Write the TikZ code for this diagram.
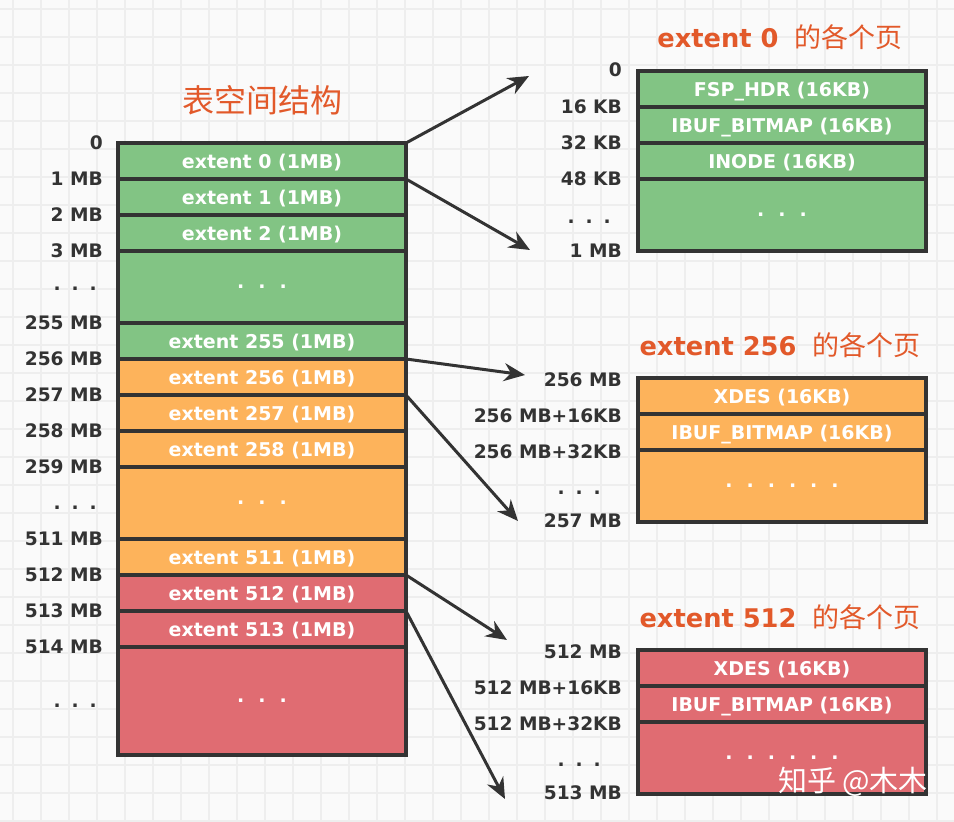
\documentclass[tikz,border=0pt]{standalone}
\usepackage{fontspec}
\usetikzlibrary{arrows.meta}
\setmainfont{DejaVu Sans}
\newfontfamily\cjkfont{Noto Sans CJK SC}
\definecolor{gridc}{HTML}{EEEEEE}
\definecolor{linec}{HTML}{333333}
\definecolor{greenc}{HTML}{82C484}
\definecolor{orangec}{HTML}{FDB35B}
\definecolor{redc}{HTML}{E06C72}
\definecolor{titlec}{HTML}{E2592A}
\newcommand*{\threedots}{\raisebox{6pt}{.\hspace{14pt}.\hspace{14pt}.}}
\newcommand*{\leftdots}{.\hspace{11pt}.\hspace{11pt}.}
\newcommand*{\sixdots}{\raisebox{6pt}{.\hspace{14pt}.\hspace{14pt}.\hspace{14pt}.\hspace{14pt}.\hspace{14pt}.}}
\newcommand*{\pagesof}{{\cjkfont\fontsize{27}{30}\selectfont\mdseries\hspace{16pt}的各个页}}
% one slab of a stack: name, left, top, bottom, colour, text
\newcommand*{\slab}[6]{%
\pgfmathsetmacro{\slabh}{#4-#3}
\node[slab, minimum height=\slabh pt, fill=#5] (#1) at (#2+144, {(#3+#4)/2}) {#6};}
\tikzset{
  slab/.style={draw=linec, line width=3.4pt, minimum width=288pt, inner sep=0pt, outer sep=0pt,
    text height=14pt, text depth=0pt, text=white, font=\fontsize{19}{21}\selectfont\bfseries},
  addr/.style={anchor=east, inner sep=0pt, text=linec, font=\fontsize{18.6}{21}\selectfont\bfseries},
  ttl/.style={text=titlec, inner sep=0pt, font=\fontsize{25.7}{30}\selectfont\bfseries},
  ptr/.style={draw=linec, line width=3pt, -{Stealth[length=21pt,width=18pt]}},
}

\begin{document}
\begin{tikzpicture}[x=1pt, y=-1pt]
\useasboundingbox (0,0) rectangle (954,822);
\fill[white!98!black] (0,0) rectangle (954,822);

\foreach \gx in {13,41,...,953} {\draw[gridc, line width=1.2pt] (\gx,0) -- (\gx,822);}
\foreach \gy in {9,37,...,821} {\draw[gridc, line width=1.2pt] (0,\gy) -- (954,\gy);}

% table space
\node[ttl, font=\cjkfont\fontsize{32}{36}\selectfont] (spacetitle) at (262,100) {表空间结构};
\foreach \nm/\ya/\yb/\colr/\txt in {
  ext0/143/179/greenc/extent 0 (1MB), ext1/179/215/greenc/extent 1 (1MB),
  ext2/215/251/greenc/extent 2 (1MB), extg/251/323/greenc/\threedots,
  ext255/323/359/greenc/extent 255 (1MB), ext256/359/395/orangec/extent 256 (1MB),
  ext257/395/431/orangec/extent 257 (1MB), ext258/431/467/orangec/extent 258 (1MB),
  exto/467/539/orangec/\threedots, ext511/539/575/orangec/extent 511 (1MB),
  ext512/575/611/redc/extent 512 (1MB), ext513/611/647/redc/extent 513 (1MB),
  extr/647/755/redc/\threedots}
  {\slab{\nm}{118}{\ya}{\yb}{\colr}{\txt}}

\foreach \nm/\yy/\txt in {
  a0/143/0, a1/179/1 MB, a2/215/2 MB, a3/251/3 MB, a255/323/255 MB, a256/359/256 MB,
  a257/395/257 MB, a258/431/258 MB, a259/467/259 MB, a511/539/511 MB, a512/575/512 MB,
  a513/611/513 MB, a514/647/514 MB}
  {\node[addr] (\nm) at (103,\yy) {\txt};}
\node[addr] (ag) at (97,289) {\leftdots};
\node[addr] (ao) at (97,508) {\leftdots};
\node[addr] (ar) at (97,706) {\leftdots};

% extent 0
\node[ttl] (title0) at (780,37) {extent 0\pagesof};
\slab{fsp}{638}{71}{107}{greenc}{FSP\_HDR (16KB)}
\slab{ibufa}{638}{107}{143}{greenc}{IBUF\_BITMAP (16KB)}
\slab{inode}{638}{143}{179}{greenc}{INODE (16KB)}
\slab{resta}{638}{179}{251}{greenc}{\threedots}
\foreach \nm/\yy/\txt in {b0/70/0, b16/107/16 KB, b32/143/32 KB, b48/179/48 KB, b1/251/1 MB}
  {\node[addr] (\nm) at (622,\yy) {\txt};}
\node[addr] (bg) at (611,222) {\leftdots};

% extent 256
\node[ttl] (title256) at (780,345) {extent 256\pagesof};
\slab{xdesb}{638}{378}{414}{orangec}{XDES (16KB)}
\slab{ibufb}{638}{414}{450}{orangec}{IBUF\_BITMAP (16KB)}
\slab{restb}{638}{450}{522}{orangec}{\sixdots}
\foreach \nm/\yy/\txt in {c0/380/256 MB, c16/416/256 MB+16KB, c32/452/256 MB+32KB, c1/521/257 MB}
  {\node[addr] (\nm) at (622,\yy) {\txt};}
\node[addr] (cg) at (601,493) {\leftdots};

% extent 512
\node[ttl] (title512) at (780,617) {extent 512\pagesof};
\slab{xdesc}{638}{650}{686}{redc}{XDES (16KB)}
\slab{ibufc}{638}{686}{722}{redc}{IBUF\_BITMAP (16KB)}
\slab{restc}{638}{722}{794}{redc}{\sixdots}
\foreach \nm/\yy/\txt in {d0/652/512 MB, d16/688/512 MB+16KB, d32/724/512 MB+32KB, d1/793/513 MB}
  {\node[addr] (\nm) at (622,\yy) {\txt};}
\node[addr] (dg) at (601,765) {\leftdots};

\coordinate (e0top) at (529,76);
\coordinate (e0bot) at (530,250);
\coordinate (e256top) at (525,375);
\coordinate (e256bot) at (518,521);
\coordinate (e512top) at (507,640);
\coordinate (e512bot) at (505,799);
\draw[ptr] (ext0.north east) -- (e0top);
\draw[ptr] (ext1.north east) -- (e0bot);
\draw[ptr] (ext256.north east) -- (e256top);
\draw[ptr] (ext257.north east) -- (e256bot);
\draw[ptr] (ext512.north east) -- (e512top);
\draw[ptr] (ext513.north east) -- (e512bot);

\node[text=white, inner sep=0pt, font=\cjkfont\fontsize{29}{32}\selectfont] (mark) at (853,782) {知乎 @木木};
\end{tikzpicture}
\end{document}
